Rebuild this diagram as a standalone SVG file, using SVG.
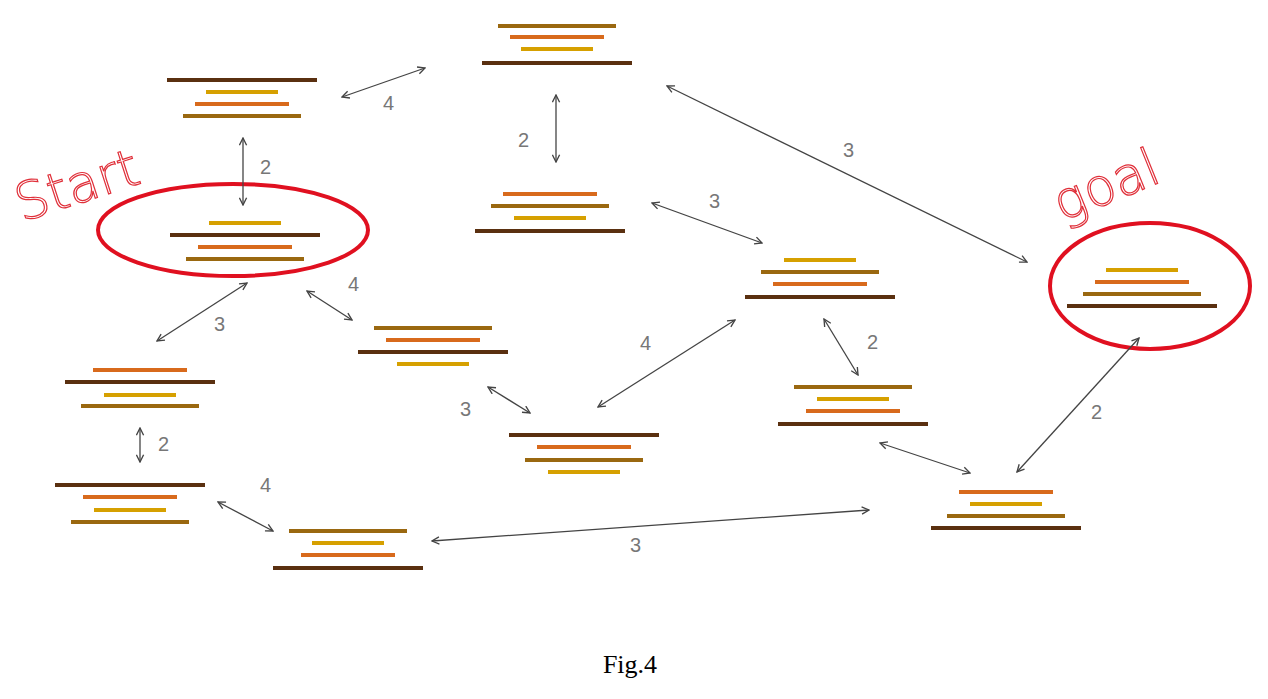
<svg xmlns="http://www.w3.org/2000/svg" width="1268" height="699" viewBox="0 0 1268 699">
<defs>
<marker id="ah" viewBox="0 0 10 10" refX="9" refY="5" markerWidth="9" markerHeight="9" orient="auto-start-reverse" markerUnits="userSpaceOnUse"><path d="M1,1 L9,5 L1,9" fill="none" stroke="#444" stroke-width="1.5"/></marker>
<g id="S"><rect x="-36" y="-2" width="72" height="4" fill="#d6a000"/></g>
<g id="M"><rect x="-47" y="-2" width="94" height="4" fill="#d86a1c"/></g>
<g id="L"><rect x="-59" y="-2" width="118" height="4" fill="#9a6810"/></g>
<g id="X"><rect x="-75" y="-2" width="150" height="4" fill="#5a3010"/></g>
</defs>
<style>
.c line{stroke:#444;stroke-width:1.3;marker-start:url(#ah);marker-end:url(#ah)}
.lb{font-family:"Liberation Sans",sans-serif;font-size:20px;fill:#777}
.hand{font-family:"DejaVu Sans",sans-serif;font-weight:200;fill:none;stroke:#e0303a;stroke-width:1.2}
</style>
<rect width="1268" height="699" fill="#fff"/>
<g id="n1" transform="translate(557,0)"><use href="#L" y="26"/><use href="#M" y="37"/><use href="#S" y="49"/><use href="#X" y="63"/></g>
<g id="n2" transform="translate(242,0)"><use href="#X" y="80"/><use href="#S" y="92"/><use href="#M" y="104"/><use href="#L" y="116"/></g>
<g id="start" transform="translate(245,0)"><use href="#S" y="223"/><use href="#X" y="235"/><use href="#M" y="247"/><use href="#L" y="259"/></g>
<g id="n3" transform="translate(550,0)"><use href="#M" y="194"/><use href="#L" y="206"/><use href="#S" y="218"/><use href="#X" y="231"/></g>
<g id="n4" transform="translate(820,0)"><use href="#S" y="260"/><use href="#L" y="272"/><use href="#M" y="284"/><use href="#X" y="297"/></g>
<g id="goal" transform="translate(1142,0)"><use href="#S" y="270"/><use href="#M" y="282"/><use href="#L" y="294"/><use href="#X" y="306"/></g>
<g id="n5" transform="translate(140,0)"><use href="#M" y="370"/><use href="#X" y="382"/><use href="#S" y="395"/><use href="#L" y="406"/></g>
<g id="n6" transform="translate(433,0)"><use href="#L" y="328"/><use href="#M" y="340"/><use href="#X" y="352"/><use href="#S" y="364"/></g>
<g id="n7" transform="translate(130,0)"><use href="#X" y="485"/><use href="#M" y="497"/><use href="#S" y="510"/><use href="#L" y="522"/></g>
<g id="n8" transform="translate(584,0)"><use href="#X" y="435"/><use href="#M" y="447"/><use href="#L" y="460"/><use href="#S" y="472"/></g>
<g id="n9" transform="translate(853,0)"><use href="#L" y="387"/><use href="#S" y="399"/><use href="#M" y="411"/><use href="#X" y="424"/></g>
<g id="n10" transform="translate(1006,0)"><use href="#M" y="492"/><use href="#S" y="504"/><use href="#L" y="516"/><use href="#X" y="528"/></g>
<g id="n11" transform="translate(348,0)"><use href="#L" y="531"/><use href="#S" y="543"/><use href="#M" y="555"/><use href="#X" y="568"/></g>
<g id="marks">
<ellipse cx="233" cy="230" rx="135" ry="46" fill="none" stroke="#e01020" stroke-width="4"/>
<ellipse cx="1150" cy="286" rx="100" ry="63" fill="none" stroke="#e01020" stroke-width="4"/>
<text class="hand" x="22" y="222" font-size="52" transform="rotate(-18 22 222)">Start</text>
<text class="hand" x="1062" y="222" font-size="52" transform="rotate(-22 1062 222)">goal</text>
</g>
<g class="c" id="connectors">
<line x1="342" y1="97" x2="425" y2="68"/>
<line x1="556" y1="95" x2="556" y2="162"/>
<line x1="667" y1="86" x2="1027" y2="262"/>
<line x1="243" y1="138" x2="243" y2="205"/>
<line x1="247" y1="283" x2="157" y2="341"/>
<line x1="307" y1="291" x2="352" y2="320"/>
<line x1="652" y1="203" x2="762" y2="243"/>
<line x1="735" y1="320" x2="598" y2="407"/>
<line x1="824" y1="319" x2="858" y2="375"/>
<line x1="488" y1="387" x2="530" y2="413"/>
<line x1="140" y1="428" x2="140" y2="462"/>
<line x1="218" y1="502" x2="273" y2="531"/>
<line x1="432" y1="541" x2="869" y2="510"/>
<line x1="880" y1="443" x2="970" y2="473"/>
<line x1="1139" y1="338" x2="1017" y2="472"/>
</g>
<g id="labels">
<text class="lb" x="383" y="110">4</text>
<text class="lb" x="518" y="147">2</text>
<text class="lb" x="843" y="157">3</text>
<text class="lb" x="260" y="174">2</text>
<text class="lb" x="214" y="331">3</text>
<text class="lb" x="348" y="291">4</text>
<text class="lb" x="709" y="208">3</text>
<text class="lb" x="640" y="350">4</text>
<text class="lb" x="867" y="349">2</text>
<text class="lb" x="460" y="416">3</text>
<text class="lb" x="158" y="451">2</text>
<text class="lb" x="260" y="492">4</text>
<text class="lb" x="630" y="552">3</text>
<text class="lb" x="1091" y="419">2</text>
<text x="630" y="673" text-anchor="middle" font-family="Liberation Serif,serif" font-size="26">Fig.4</text>
</g>
</svg>
